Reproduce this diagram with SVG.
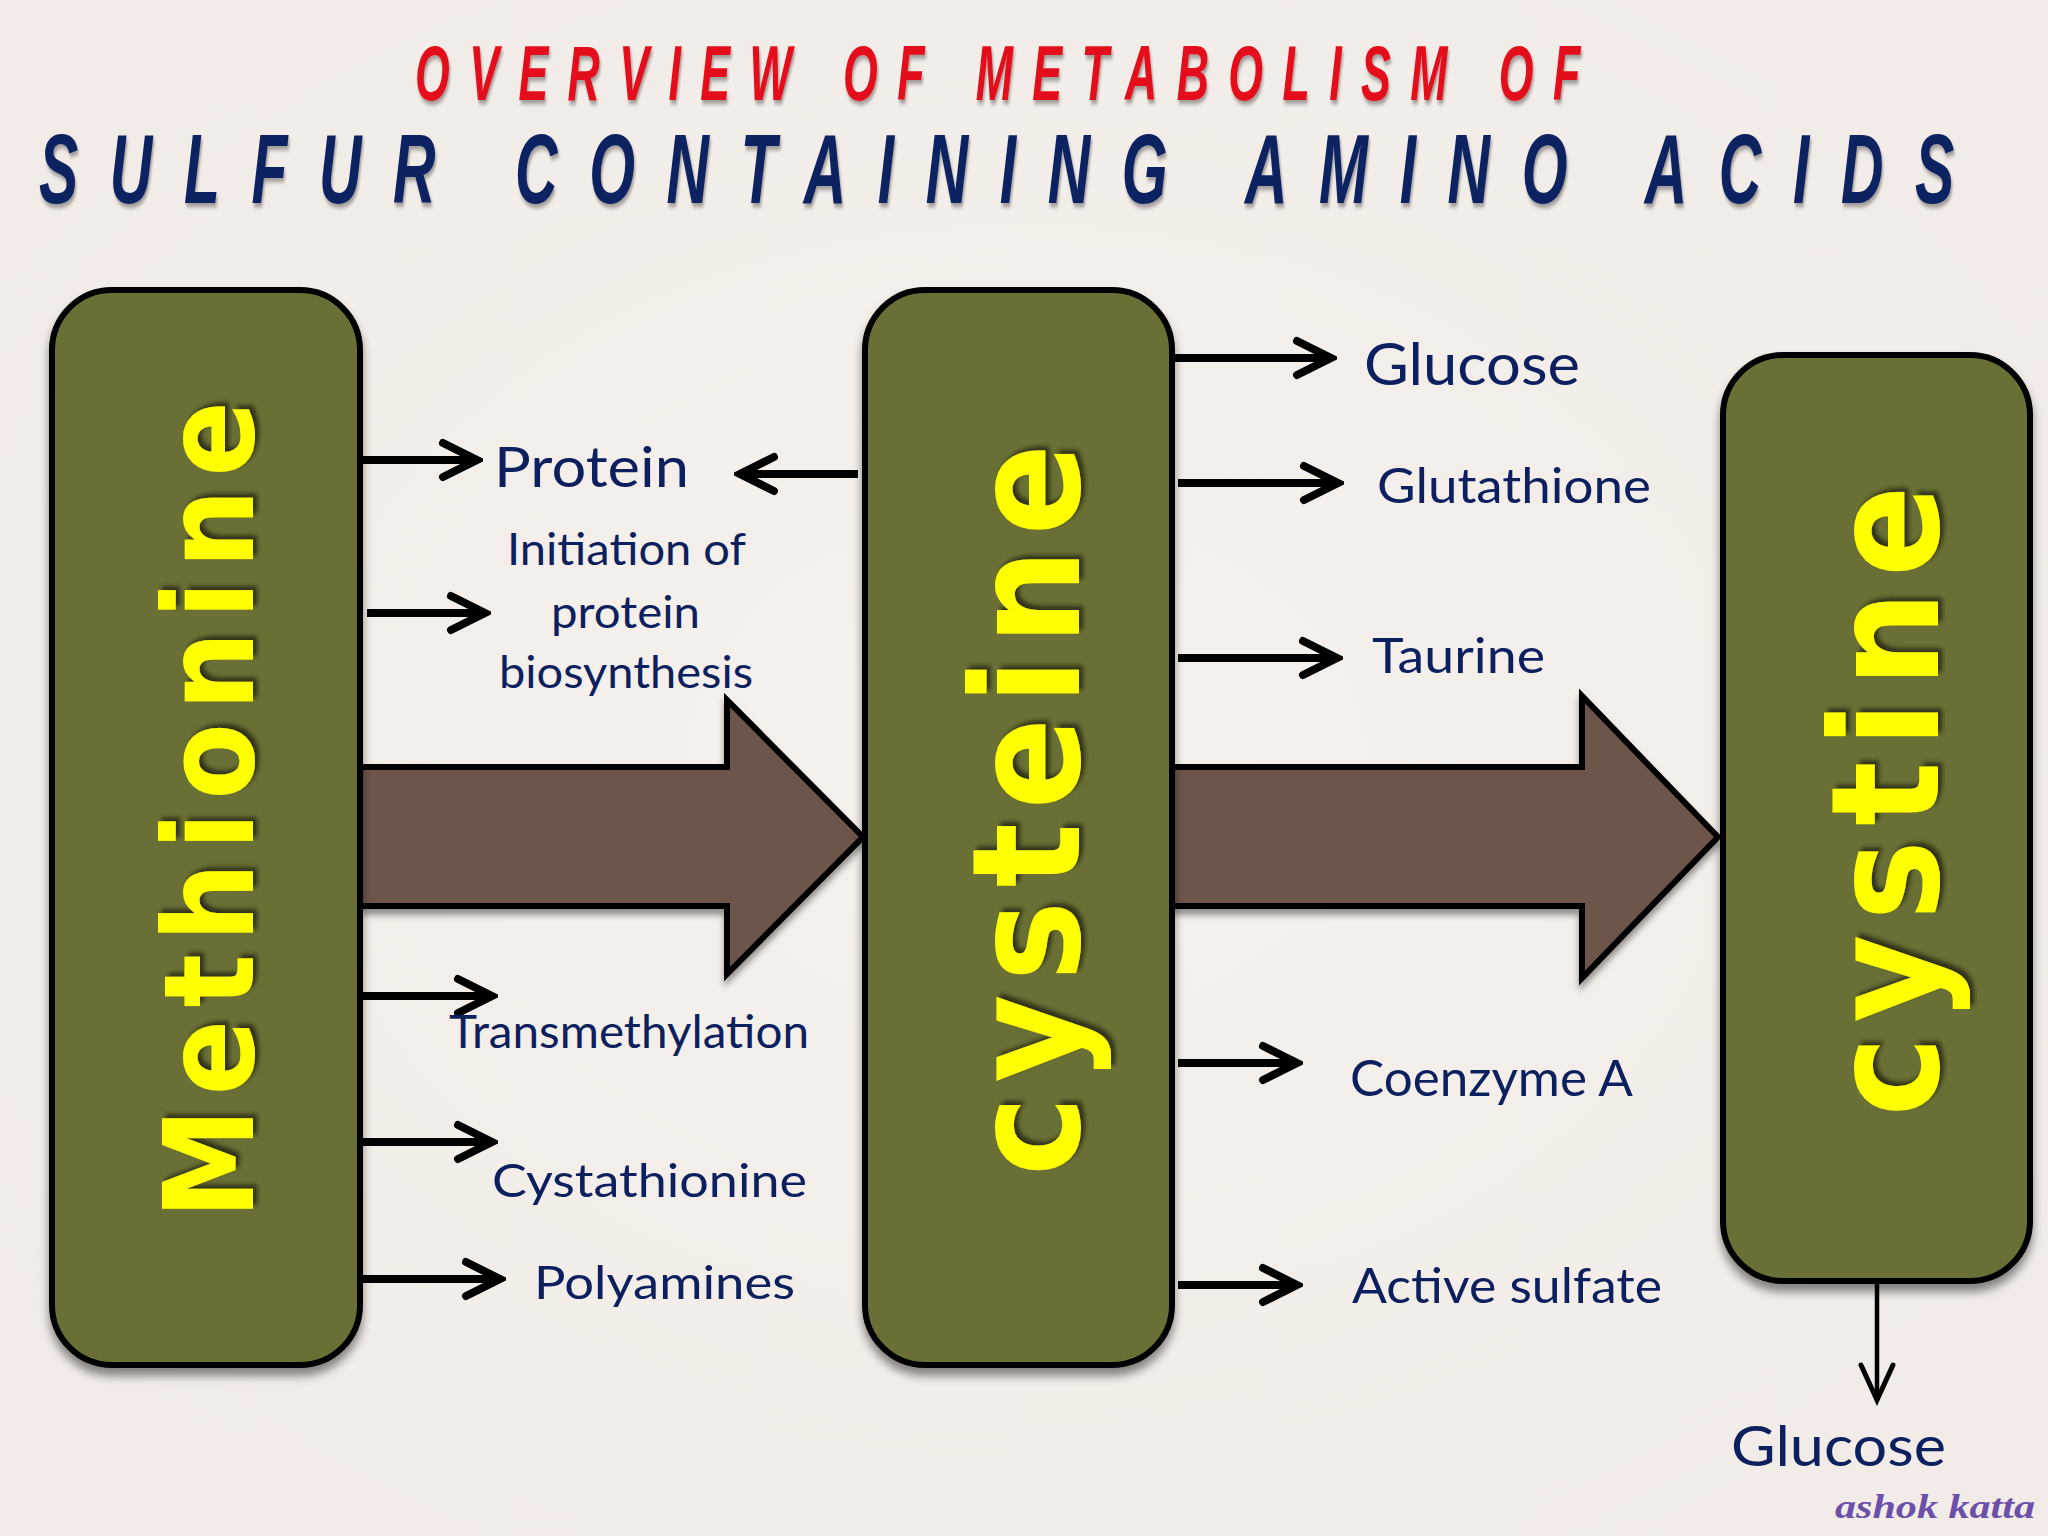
<svg xmlns="http://www.w3.org/2000/svg" width="2048" height="1536" viewBox="0 0 2048 1536">
<defs>
<style>
.box{fill:#6a7034;stroke:#000;stroke-width:6;filter:url(#boxShadow)}
.big{fill:#6e554b;stroke:#000;stroke-width:6;stroke-linejoin:miter;filter:url(#arrowShadow)}
.vtxt{font-family:"DejaVu Sans Condensed","DejaVu Sans","Liberation Sans",sans-serif;font-stretch:condensed;font-weight:bold;fill:#ffff00;filter:url(#txtShadow)}
.lbl{font-family:Lato,"Open Sans","Liberation Sans",sans-serif;fill:#0c1f5e}
.ln{stroke:#000;stroke-width:8;fill:none;marker-end:url(#chev)}
.ln2{stroke:#000;stroke-width:4.5;fill:none;marker-end:url(#chev2)}
.t1{font-family:"Liberation Sans",Arial,sans-serif;font-weight:bold;font-style:italic;fill:#e3101a;filter:url(#titleShadow)}
.t2{font-family:"Liberation Sans",Arial,sans-serif;font-weight:bold;font-style:italic;fill:#0f2461;filter:url(#titleShadow)}
</style>
<filter id="boxShadow" x="-20%" y="-10%" width="140%" height="125%">
<feDropShadow dx="0" dy="8" stdDeviation="5" flood-color="#000" flood-opacity="0.45"/>
</filter>
<filter id="arrowShadow" x="-10%" y="-20%" width="120%" height="150%">
<feDropShadow dx="0" dy="6" stdDeviation="3" flood-color="#000" flood-opacity="0.4"/>
</filter>
<filter id="txtShadow" x="-10%" y="-30%" width="130%" height="170%">
<feDropShadow dx="4" dy="4" stdDeviation="2" flood-color="#23240c" flood-opacity="0.8"/>
</filter>
<filter id="titleShadow" x="-5%" y="-30%" width="110%" height="170%">
<feDropShadow dx="2" dy="4" stdDeviation="2" flood-color="#000" flood-opacity="0.35"/>
</filter>
<marker id="chev" markerUnits="userSpaceOnUse" viewBox="-42 -24 48 48" refX="0" refY="0" markerWidth="48" markerHeight="48" orient="auto">
<path d="M-34,-17 L0,0 L-34,17" fill="none" stroke="#000" stroke-width="8" stroke-linecap="round" stroke-linejoin="miter"/>
</marker>
<marker id="chev2" markerUnits="userSpaceOnUse" viewBox="-42 -24 48 48" refX="0" refY="0" markerWidth="48" markerHeight="48" orient="auto">
<path d="M-35,-16 L0,0 L-35,16" fill="none" stroke="#000" stroke-width="5" stroke-linecap="round"/>
</marker>
<radialGradient id="bg" cx="50%" cy="50%" r="75%">
<stop offset="0" stop-color="#f6f1ec"/>
<stop offset="1" stop-color="#f1eae6"/>
</radialGradient>
</defs>

<rect x="0" y="0" width="2048" height="1536" fill="url(#bg)"/>

<g id="title">
<text class="t1" transform="translate(415,100) scale(0.58,1)" font-size="77" textLength="2009" lengthAdjust="spacing">OVERVIEW OF METABOLISM OF</text>
<text class="t2" transform="translate(39,203) scale(0.6,1)" font-size="98" textLength="3192" lengthAdjust="spacing">SULFUR CONTAINING AMINO ACIDS</text>
</g>

<g id="connectors">
<path id="big-arrow-1" class="big" d="M360,767 L727,767 L727,700 L863,837 L727,974 L727,906 L360,906"/>
<path id="big-arrow-2" class="big" d="M1172,767 L1582,767 L1582,696 L1718,837 L1582,978 L1582,906 L1172,906"/>
<line class="ln" x1="359" y1="460" x2="477" y2="460"/>
<line class="ln" x1="858" y1="474" x2="740" y2="474"/>
<line class="ln" x1="367" y1="613" x2="485" y2="613"/>
<line class="ln" x1="351" y1="996" x2="492" y2="996"/>
<line class="ln" x1="351" y1="1142" x2="492" y2="1142"/>
<line class="ln" x1="360" y1="1279" x2="500" y2="1279"/>
<line class="ln" x1="1171" y1="358" x2="1331" y2="358"/>
<line class="ln" x1="1178" y1="483" x2="1338" y2="483"/>
<line class="ln" x1="1178" y1="658" x2="1337" y2="658"/>
<line class="ln" x1="1178" y1="1063" x2="1297" y2="1063"/>
<line class="ln" x1="1178" y1="1285" x2="1297" y2="1285"/>
<line class="ln2" x1="1877" y1="1283" x2="1877" y2="1400"/>
</g>

<g id="node-methionine">
<rect class="box" x="52" y="290" width="308" height="1075" rx="60" ry="60"/>
<text class="vtxt" transform="translate(253,810) rotate(-90)" text-anchor="middle" font-size="124" textLength="818" lengthAdjust="spacing">Methionine</text>
</g>
<g id="node-cysteine">
<rect class="box" x="865" y="290" width="307" height="1075" rx="60" ry="60"/>
<text class="vtxt" transform="translate(1079,810) rotate(-90)" text-anchor="middle" font-size="150" textLength="732" lengthAdjust="spacing">cysteine</text>
</g>
<g id="node-cystine">
<rect class="box" x="1723" y="355" width="307" height="926" rx="60" ry="60"/>
<text class="vtxt" transform="translate(1938,801) rotate(-90)" text-anchor="middle" font-size="150" textLength="631" lengthAdjust="spacing">cystine</text>
</g>

<g id="node-protein"><text class="lbl" x="494" y="487" font-size="56" textLength="195" lengthAdjust="spacingAndGlyphs">Protein</text></g>
<g id="node-initiation">
<text class="lbl" x="507" y="565" font-size="45" textLength="239" lengthAdjust="spacingAndGlyphs">Initiation of</text>
<text class="lbl" x="551" y="628" font-size="45" textLength="149" lengthAdjust="spacingAndGlyphs">protein</text>
<text class="lbl" x="499" y="688" font-size="45" textLength="254" lengthAdjust="spacingAndGlyphs">biosynthesis</text>
</g>
<g id="node-transmethylation"><text class="lbl" x="449" y="1048" font-size="46" textLength="360" lengthAdjust="spacingAndGlyphs">Transmethylation</text></g>
<g id="node-cystathionine"><text class="lbl" x="492" y="1197" font-size="47" textLength="315" lengthAdjust="spacingAndGlyphs">Cystathionine</text></g>
<g id="node-polyamines"><text class="lbl" x="534" y="1299" font-size="46" textLength="261" lengthAdjust="spacingAndGlyphs">Polyamines</text></g>
<g id="node-glucose-1"><text class="lbl" x="1364" y="385" font-size="58" textLength="216" lengthAdjust="spacingAndGlyphs">Glucose</text></g>
<g id="node-glutathione"><text class="lbl" x="1377" y="503" font-size="49" textLength="274" lengthAdjust="spacingAndGlyphs">Glutathione</text></g>
<g id="node-taurine"><text class="lbl" x="1372" y="673" font-size="49" textLength="173" lengthAdjust="spacingAndGlyphs">Taurine</text></g>
<g id="node-coenzyme-a"><text class="lbl" x="1350" y="1096" font-size="50" textLength="283" lengthAdjust="spacingAndGlyphs">Coenzyme A</text></g>
<g id="node-active-sulfate"><text class="lbl" x="1352" y="1303" font-size="48" textLength="310" lengthAdjust="spacingAndGlyphs">Active sulfate</text></g>
<g id="node-glucose-2"><text class="lbl" x="1731" y="1466" font-size="57" textLength="215" lengthAdjust="spacingAndGlyphs">Glucose</text></g>

<g id="signature"><text x="1835" y="1518" font-family="'Liberation Serif',serif" font-style="italic" font-weight="bold" font-size="34" fill="#6b4fa8" textLength="200" lengthAdjust="spacingAndGlyphs">ashok katta</text></g>
</svg>
